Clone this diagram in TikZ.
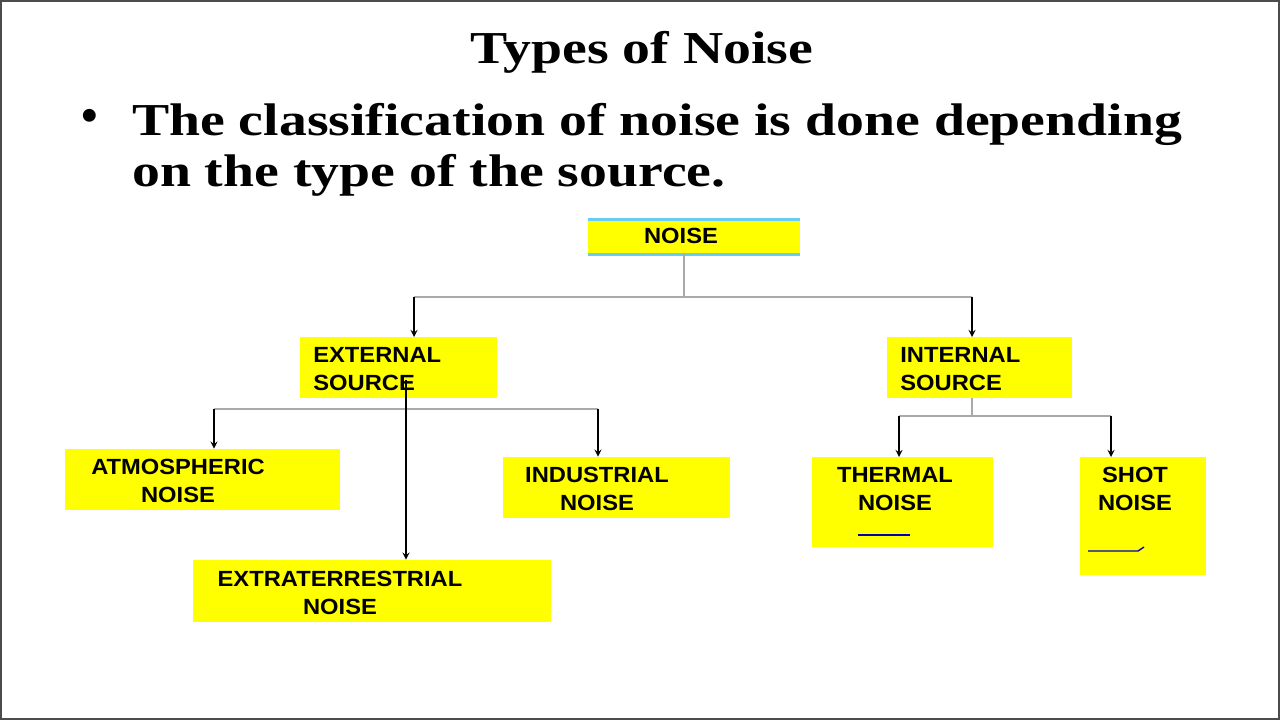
\documentclass[tikz,border=0pt]{standalone}
\usepackage{fontspec}
\setmainfont{Liberation Serif}
\setsansfont{Liberation Sans}
\newfontfamily\widefont[FakeStretch=1.22]{Liberation Serif}
\newfontfamily\boxfont[FakeStretch=1.08]{Liberation Sans}
\usetikzlibrary{positioning}
\definecolor{boxyellow}{RGB}{255,255,0}
\definecolor{linegray}{RGB}{170,170,170}
\tikzset{
  ybox/.style={fill=boxyellow, inner sep=0pt},
  ytext/.style={font=\boxfont\bfseries\fontsize{12.5}{16}\selectfont, align=center, inner sep=0pt},
  link/.style={linegray, thick},
  drop/.style={black, thick, ->, >=stealth},
}
\begin{document}
\begin{tikzpicture}[x=0.02cm, y=-0.02cm]
  \useasboundingbox[fill=white] (0,0) rectangle (1280,720);
  \draw[black!70, line width=1pt] (1,1) rectangle (1279,719);
  % title and text
  \node[font=\widefont\bfseries\fontsize{26}{30}\selectfont] (title) at (642,52) {Types of Noise};
  \node[font=\bfseries\fontsize{27}{30}\selectfont] (bullet) at (90,120) {\textbullet};
  \node[anchor=base west, font=\widefont\bfseries\fontsize{26}{30}\selectfont] (line1) at (126,135) {The classification of noise is done depending};
  \node[anchor=base west, font=\widefont\bfseries\fontsize{26}{30}\selectfont] (line2) at (126,186) {on the type of the source.};
  % boxes
  \node[ybox, minimum width=4.24cm, minimum height=0.68cm] (noise) at (694,237) {};
  \node[ytext] (noiset) at (681,236) {NOISE};
  \draw[cyan!60, line width=2pt] (noise.north west) -- (noise.north east);
  \draw[cyan!60, line width=2pt] (noise.south west) -- (noise.south east);
  \node[ybox, minimum width=3.94cm, minimum height=1.22cm] (ext) at (398.5,367.5) {};
  \node[ytext, align=left, anchor=west] (extt) at (313,369) {EXTERNAL\\SOURCE};
  \node[ybox, minimum width=3.7cm, minimum height=1.22cm] (int) at (979.5,367.5) {};
  \node[ytext, align=left, anchor=west] (intt) at (900,369) {INTERNAL\\SOURCE};
  \node[ybox, minimum width=5.5cm, minimum height=1.22cm] (atm) at (202.5,479.5) {};
  \node[ytext] (atmt) at (178,481) {ATMOSPHERIC\\NOISE};
  \node[ybox, minimum width=4.54cm, minimum height=1.22cm] (ind) at (616.5,487.5) {};
  \node[ytext] (indt) at (597,489) {INDUSTRIAL\\NOISE};
  \node[ybox, minimum width=7.16cm, minimum height=1.24cm] (extra) at (372,591) {};
  \node[ytext] (extrat) at (340,593) {EXTRATERRESTRIAL\\NOISE};
  \node[ybox, minimum width=3.62cm, minimum height=1.8cm, anchor=north] (therm) at (902.5,457) {};
  \node[ytext] (thermt) at (895,489) {THERMAL\\NOISE};
  \node[ybox, minimum width=2.52cm, minimum height=2.36cm, anchor=north] (shot) at (1143,457) {};
  \node[ytext] (shott) at (1135,489) {SHOT\\NOISE};
  \draw[blue!70!black, thick] (858,535) -- (910,535);
  \draw[blue!70!black, thick] (1088,551) -- (1138,551) -- (1144,547);
  % connectors
  \coordinate (nj) at (684,297);
  \coordinate (nl) at (414,297);
  \coordinate (nr) at (972,297);
  \draw[link] (684,254) -- (nj);
  \draw[link] (nl) -- (nr);
  \draw[drop] (nl) -- (414,337);
  \draw[drop] (nr) -- (972,337);
  \coordinate (el) at (214,409);
  \coordinate (er) at (598,409);
  \draw[link] (el) -- (er);
  \draw[drop] (el) -- (atm.north -| el);
  \draw[drop] (er) -- (ind.north -| er);
  \draw[drop] (406,380) -- (extra.north -| 406,0);
  \coordinate (il) at (899,416);
  \coordinate (ir) at (1111,416);
  \draw[link] (int.south -| 972,0) -- (972,416);
  \draw[link] (il) -- (ir);
  \draw[drop] (il) -- (therm.north -| il);
  \draw[drop] (ir) -- (shot.north -| ir);
\end{tikzpicture}
\end{document}
